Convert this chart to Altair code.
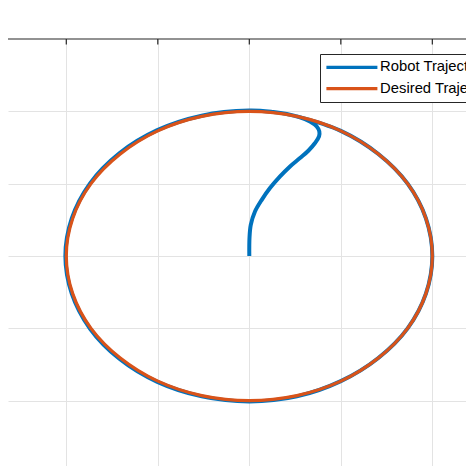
import altair as alt
import pandas as pd

# ---- data ----
tick_values = [-2, -1, 0, 1, 2]
grid_y_values = [-2, -1, 0, 1, 2]
border_y = [3]

series_names = ["Robot Trajectory", "Desired Trajectory"]
series_colors = ["#0072BD", "#D95319"]

desired_x = [2.00, 1.93, 1.73, 1.41, 1.00, 0.52, 0.00, -0.52, -1.00, -1.41, -1.73, -1.93,
             -2.00, -1.93, -1.73, -1.41, -1.00, -0.52, 0.00, 0.52, 1.00, 1.41, 1.73, 1.93]
desired_y = [0.00, 0.52, 1.00, 1.41, 1.73, 1.93, 2.00, 1.93, 1.73, 1.41, 1.00, 0.52,
             0.00, -0.52, -1.00, -1.41, -1.73, -1.93, -2.00, -1.93, -1.73, -1.41, -1.00, -0.52]

robot_x = [0.00, 0.002, 0.016, 0.062, 0.136, 0.226, 0.336, 0.445, 0.554, 0.645, 0.718, 0.762,
           0.765, 0.737, 0.663, 0.554, 0.409, 0.262,
           0.00, -0.52, -1.005, -1.42, -1.74, -1.94, -2.01, -1.94, -1.74, -1.42, -1.005, -0.52,
           0.00, 0.52, 1.00, 1.41, 1.73, 1.93, 2.00, 1.93, 1.73, 1.41, 1.00, 0.52]
robot_y = [0.00, 0.25, 0.43, 0.615, 0.777, 0.939, 1.10, 1.238, 1.354, 1.455, 1.562, 1.653,
           1.722, 1.791, 1.86, 1.916, 1.963, 1.99,
           2.01, 1.94, 1.74, 1.42, 1.005, 0.52, 0.00, -0.52, -1.005, -1.42, -1.74, -1.94,
           -2.01, -1.94, -1.73, -1.41, -1.00, -0.52, 0.00, 0.52, 1.00, 1.41, 1.73, 1.93]

robot_df = pd.DataFrame({"x": robot_x, "y": robot_y, "i": range(len(robot_x)),
                         "series": series_names[0]})
desired_df = pd.DataFrame({"x": desired_x, "y": desired_y, "i": range(len(desired_x)),
                           "series": series_names[1]})
ticks_df = pd.DataFrame({"xt": tick_values})
border_df = pd.DataFrame({"yb": border_y})

W, H = 458, 427

x_scale = alt.Scale(domain=[-2.637, 2.368], nice=False, zero=False)
y_scale = alt.Scale(domain=[-2.903, 3.0], nice=False, zero=False)

x_axis = alt.Axis(values=tick_values, grid=True, labels=False, ticks=False, domain=False,
                  title=None, gridColor="#e3e3e3", gridWidth=1)
y_axis = alt.Axis(values=grid_y_values, grid=True, labels=False, ticks=False, domain=False,
                  title=None, gridColor="#e3e3e3", gridWidth=1)

color = alt.Color(
    "series:N",
    scale=alt.Scale(domain=series_names, range=series_colors),
    legend=alt.Legend(
        title=None, orient="none", legendX=312, legendY=15,
        symbolType="M-5.1,0H5.1", symbolSize=100, symbolStrokeWidth=3.2,
        labelFont="Liberation Sans", labelFontSize=14.8, labelColor="#000000",
        labelOffset=20.8, padding=6, rowPadding=5.2, symbolOffset=18.5,
        strokeColor="#262626", fillColor="#ffffff", labelLimit=300,
    ),
)

robot = alt.Chart(robot_df).mark_line(strokeWidth=4, interpolate="catmull-rom").encode(
    x=alt.X("x:Q", scale=x_scale, axis=x_axis),
    y=alt.Y("y:Q", scale=y_scale, axis=y_axis),
    order="i:Q",
    color=color,
)

desired = alt.Chart(desired_df).mark_line(strokeWidth=3.2, interpolate="cardinal-closed").encode(
    x=alt.X("x:Q", scale=x_scale, axis=x_axis),
    y=alt.Y("y:Q", scale=y_scale, axis=y_axis),
    order="i:Q",
    color=color,
)

borders = alt.Chart(border_df).mark_rule(color="#262626", strokeWidth=1.2).encode(
    y=alt.Y("yb:Q", scale=y_scale, axis=y_axis),
)

top_ticks = alt.Chart(ticks_df).mark_rule(color="#262626", strokeWidth=1.2).encode(
    x=alt.X("xt:Q", scale=x_scale, axis=x_axis),
    y=alt.value(0), y2=alt.value(5.5),
)

chart = alt.layer(robot, desired, borders, top_ticks).properties(
    width=W, height=H,
    autosize="none",
    padding={"left": 0, "top": 31, "right": 0, "bottom": 0},
    background="#ffffff",
).configure_view(stroke=None)

chart.save("out.html", embed_options={"renderer": "svg", "actions": False})
